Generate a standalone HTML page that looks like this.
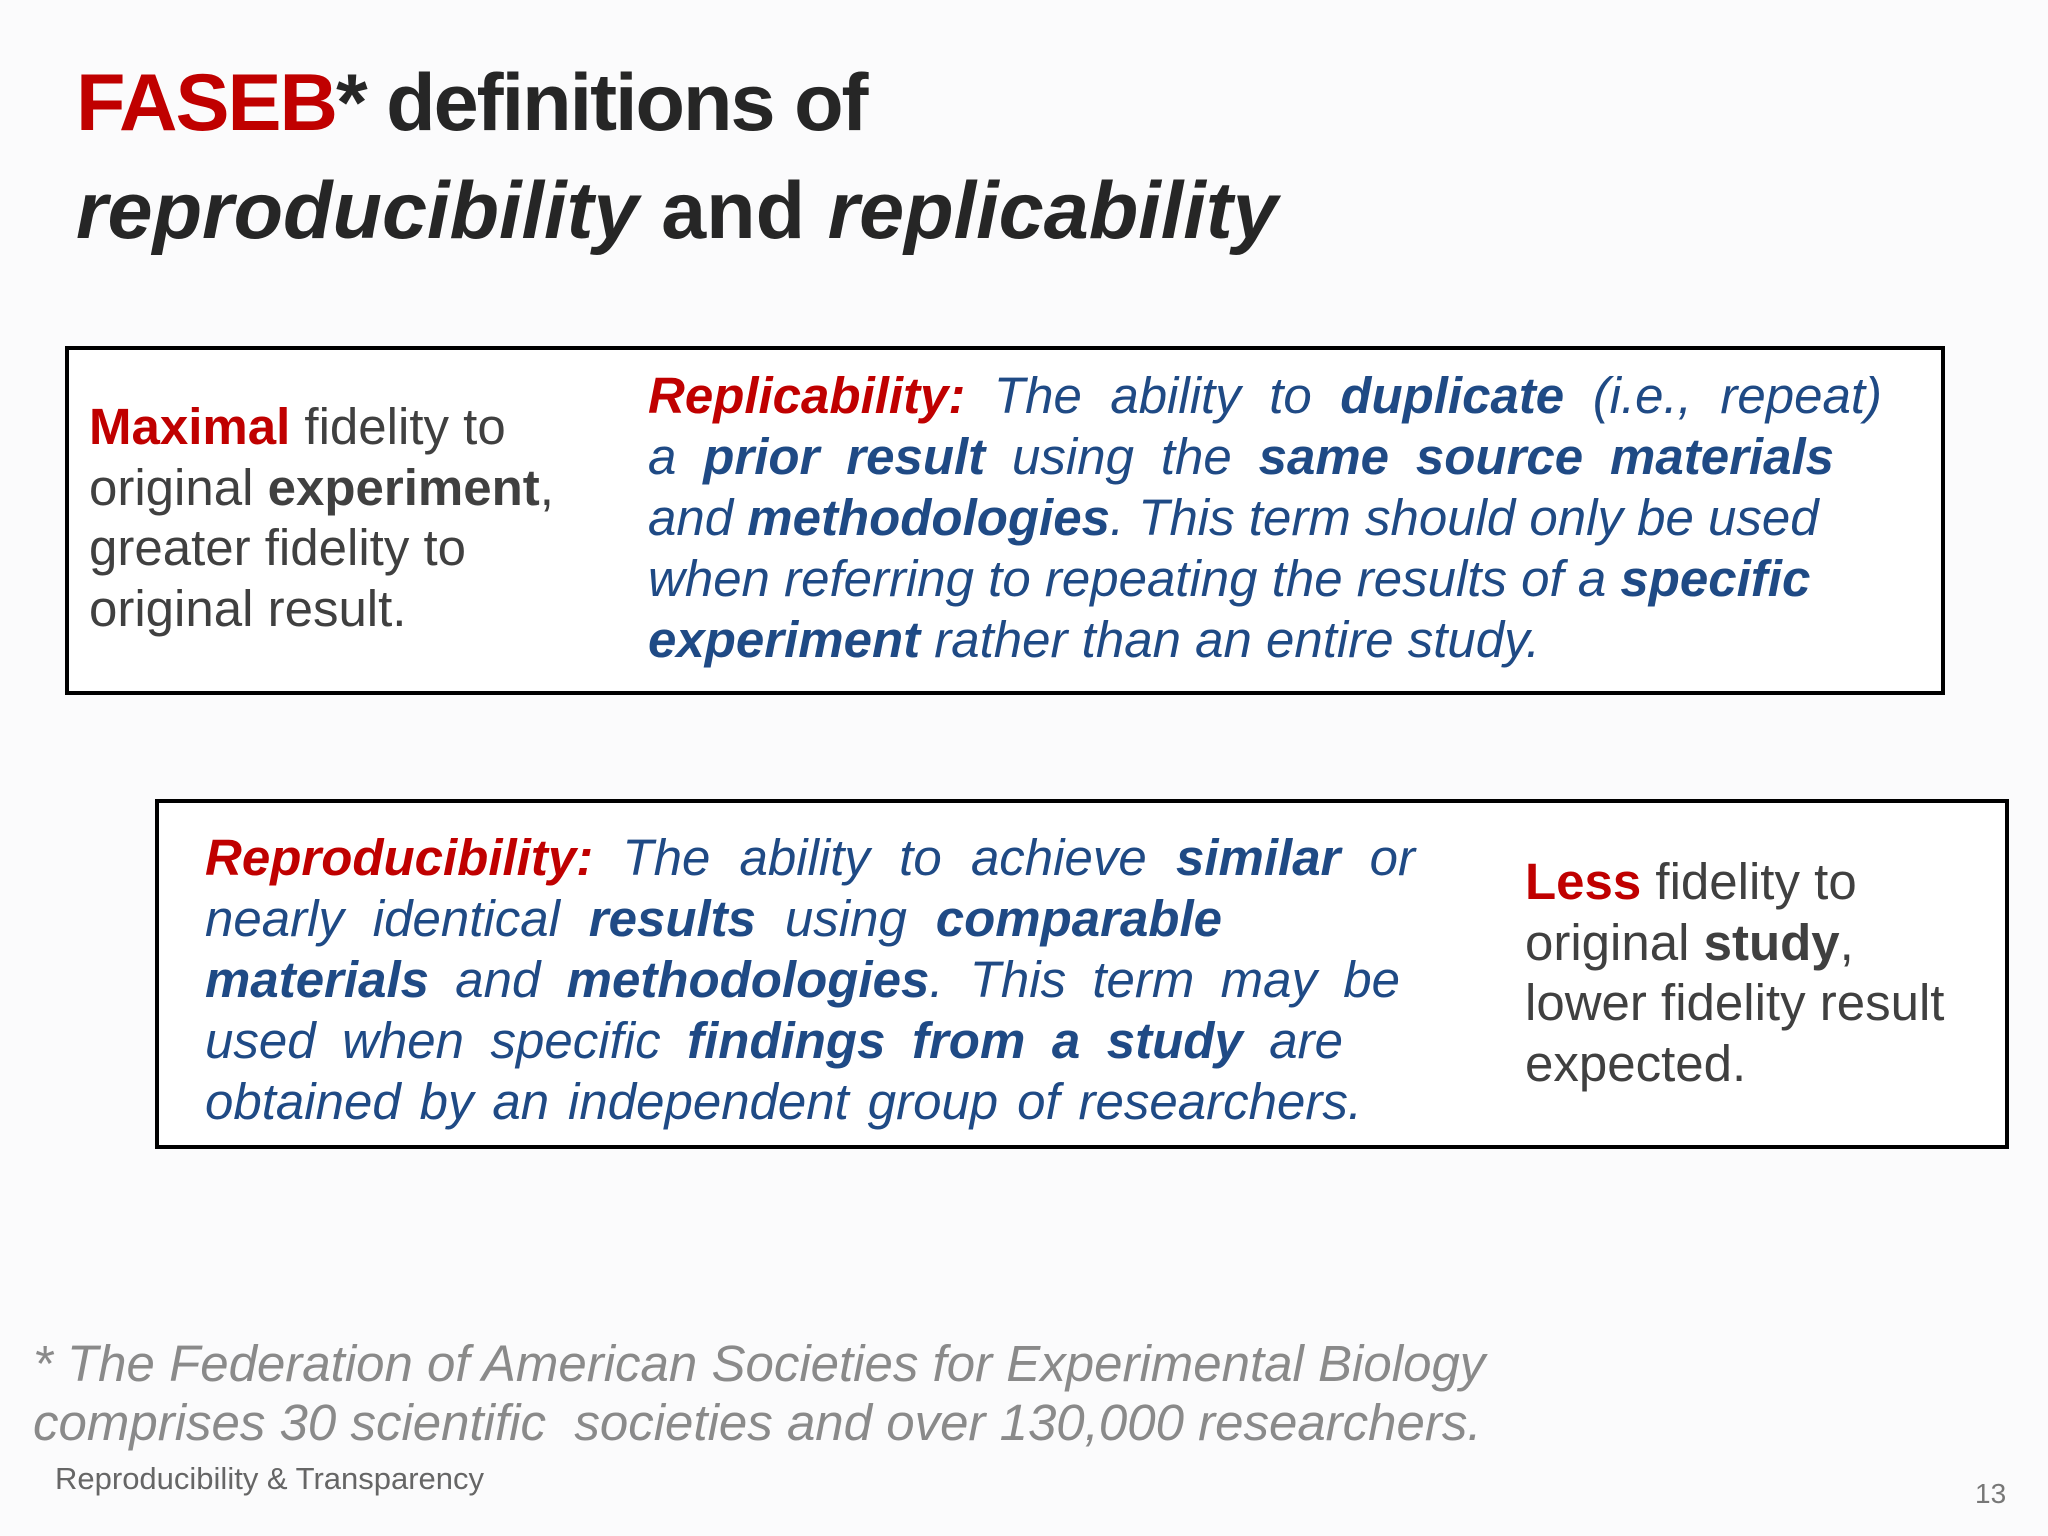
<!DOCTYPE html>
<html><head><meta charset="utf-8"><style>
body{margin:0;}
#slide{position:relative;width:2048px;height:1536px;background:#fbfbfc;overflow:hidden;font-family:"Liberation Sans",sans-serif;}
.t{position:absolute;white-space:nowrap;}
.title{font-weight:bold;font-size:81px;color:#262626;letter-spacing:-2px;}
.red{color:#c00000;}
.box{position:absolute;border:4px solid #000;box-sizing:border-box;background:#fff;}
.ln{position:absolute;white-space:nowrap;font-size:51px;line-height:1;}
.j{text-align:justify;text-align-last:justify;}
.blue{color:#1f4a85;font-style:italic;}
.gray{color:#404040;}
b{font-weight:bold;}
.foot{color:#8a8a8a;font-style:italic;font-size:51px;}
</style></head><body>
<div id="slide">
<div class="t title" style="left:76px;top:57px;"><span class="red">FASEB</span>* definitions of</div>
<div class="t title" style="left:76px;top:165px;letter-spacing:0px;"><i>reproducibility</i> and <i>replicability</i></div>

<div class="box" style="left:65px;top:346px;width:1880px;height:349px;"></div>
<div class="ln gray" style="left:89px;top:401px;"><b class="red">Maximal</b> fidelity to</div>
<div class="ln gray" style="left:89px;top:462px;">original <b>experiment</b>,</div>
<div class="ln gray" style="left:89px;top:522px;">greater fidelity to</div>
<div class="ln gray" style="left:89px;top:583px;">original result.</div>

<div class="ln blue j" style="left:648px;top:370px;width:1234px;"><b class="red">Replicability:</b> The ability to <b>duplicate</b> (i.e., repeat)</div>
<div class="ln blue j" style="left:648px;top:431px;width:1186px;">a <b>prior result</b> using the <b>same source materials</b></div>
<div class="ln blue" style="left:648px;top:492px;">and <b>methodologies</b>. This term should only be used</div>
<div class="ln blue" style="left:648px;top:553px;">when referring to repeating the results of a <b>specific</b></div>
<div class="ln blue" style="left:648px;top:614px;"><b>experiment</b> rather than an entire study.</div>

<div class="box" style="left:155px;top:799px;width:1854px;height:350px;"></div>
<div class="ln blue j" style="left:205px;top:832px;width:1210px;"><b class="red">Reproducibility:</b> The ability to achieve <b>similar</b> or</div>
<div class="ln blue j" style="left:205px;top:893px;width:1017px;">nearly identical <b>results</b> using <b>comparable</b></div>
<div class="ln blue j" style="left:205px;top:954px;width:1195px;"><b>materials</b> and <b>methodologies</b>. This term may be</div>
<div class="ln blue j" style="left:205px;top:1015px;width:1138px;">used when specific <b>findings from a study</b> are</div>
<div class="ln blue j" style="left:205px;top:1076px;width:1157px;">obtained by an independent group of researchers.</div>

<div class="ln gray" style="left:1525px;top:856px;"><b class="red">Less</b> fidelity to</div>
<div class="ln gray" style="left:1525px;top:917px;">original <b>study</b>,</div>
<div class="ln gray" style="left:1525px;top:977px;">lower fidelity result</div>
<div class="ln gray" style="left:1525px;top:1038px;">expected.</div>

<div class="t foot" style="left:33px;top:1334px;">* The Federation of American Societies for Experimental Biology</div>
<div class="t foot" style="left:33px;top:1393px;">comprises 30 scientific&nbsp; societies and over 130,000 researchers.</div>
<div class="t" style="left:55px;top:1461px;font-size:31px;color:#666;">Reproducibility &amp; Transparency</div>
<div class="t" style="left:1975px;top:1478px;font-size:28px;color:#777;">13</div>
</div>
</body></html>
